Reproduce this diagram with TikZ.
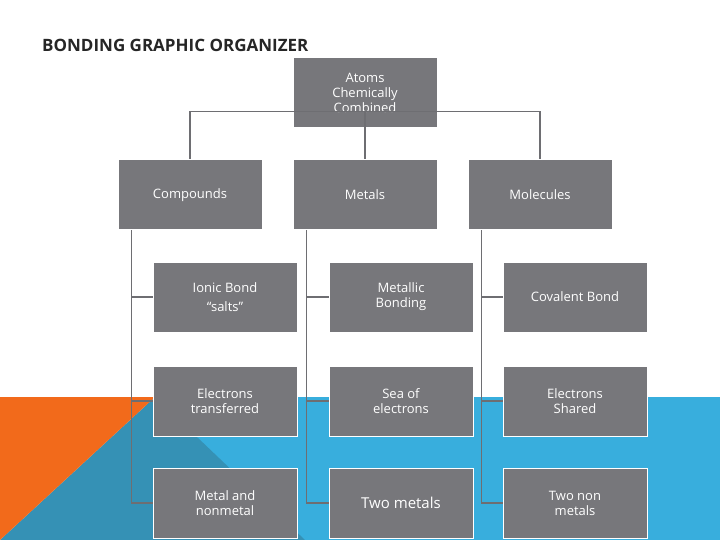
\documentclass[tikz,border=0pt]{standalone}
\usepackage{fontspec}
\setmainfont{Open Sans}
\definecolor{boxgray}{HTML}{77777B}
\definecolor{linegray}{HTML}{6E6E72}
\definecolor{orng}{HTML}{F26A1B}
\definecolor{lblue}{HTML}{38AEDD}
\definecolor{dblue}{HTML}{3591B5}
\tikzset{
  box/.style={draw=white,line width=1pt,fill=boxgray,text=white,minimum width=144pt,
    minimum height=70pt,align=center,inner sep=2pt,font=\fontsize{13}{15}\selectfont},
  conn/.style={draw=linegray,line width=1.5pt}
}
\begin{document}
\begin{tikzpicture}[x=1pt,y=-1pt]
\useasboundingbox (0,0) rectangle (720,540);
% background
\fill[lblue] (155,397) rectangle (720,540);
\fill[dblue] (155,397) -- (305,540) -- (0,540) -- cycle;
\fill[orng] (0,397) -- (155,397) -- (0,540) -- cycle;
\node[anchor=base west,inner sep=0pt,text=black!85,font=\fontsize{17}{19}\selectfont\bfseries] (title) at (42,52) {BONDING GRAPHIC ORGANIZER};
% boxes
\node[box] (top) at (365,93) {Atoms\\Chemically\\Combined};
\node[box] (comp) at (190,195) {Compounds};
\node[box] (met) at (365,195) {Metals};
\node[box] (mol) at (540,195) {Molecules};
\node[box] (c1) at (225,297) {Ionic Bond\\[4pt]“salts”};
\node[box] (c2) at (225,401) {Electrons\\transferred};
\node[box] (c3) at (225,503) {Metal and\\nonmetal};
\node[box] (m1) at (401,297) {Metallic\\Bonding};
\node[box] (m2) at (401,401) {Sea of\\electrons};
\node[box,font=\fontsize{15}{17}\selectfont] (m3) at (401,503) {Two metals};
\node[box] (l1) at (575,297) {Covalent Bond};
\node[box] (l2) at (575,401) {Electrons\\Shared};
\node[box] (l3) at (575,503) {Two non\\metals};
% connectors
\coordinate (hub) at ([yshift=17]top.south);
\draw[conn] (top.south) -- (hub);
\draw[conn] (hub) -| (comp.north);
\draw[conn] (hub) -| (mol.north);
\draw[conn] (hub) -- (met.north);
\foreach \p/\a/\b/\c in {comp/c1/c2/c3,met/m1/m2/m3,mol/l1/l2/l3}{
  \coordinate (\p x) at ([xshift=14]\p.south west);
  \draw[conn] (\p x) |- (\c.west);
  \draw[conn] (\p x |- \a.west) -- (\a.west);
  \draw[conn] (\p x |- \b.west) -- (\b.west);
}
\end{tikzpicture}
\end{document}
